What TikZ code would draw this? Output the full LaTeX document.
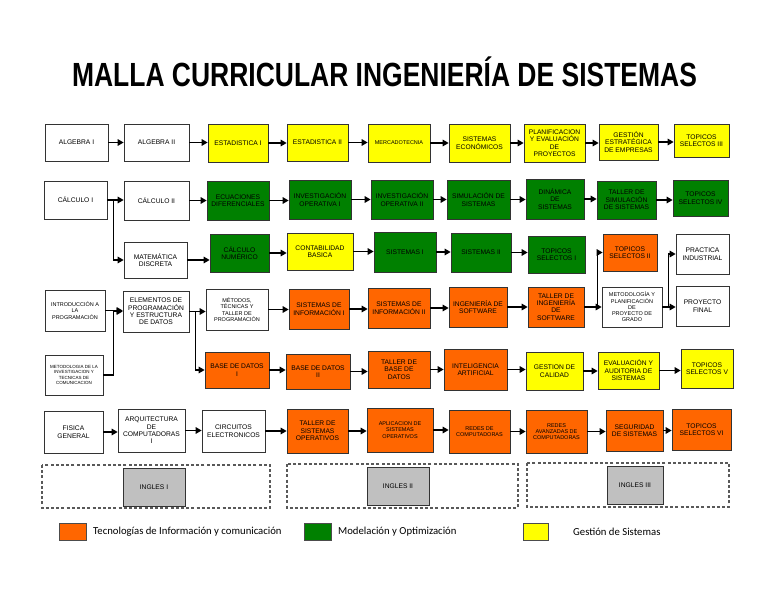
\documentclass[tikz,border=0pt]{standalone}
\usepackage{fontspec}
\setmainfont{Liberation Sans}
\newfontfamily\leyendafont{Carlito}
\usepackage{graphicx}
\usetikzlibrary{arrows.meta}
\definecolor{amarillo}{RGB}{255,255,0}
\definecolor{verde}{RGB}{0,128,0}
\definecolor{naranja}{RGB}{255,102,0}
\definecolor{gris}{RGB}{192,192,192}
\tikzset{
  caja/.style={draw=black!80, line width=0.7pt, align=center, inner sep=1pt,
    font=\fontsize{6.7}{7.4}\selectfont},
  tam/.style 2 args={minimum width=#1pt, minimum height=#2pt},
  blanca/.style={caja, fill=white},
  amar/.style={caja, fill=amarillo},
  verd/.style={caja, fill=verde},
  nar/.style={caja, fill=naranja},
  gri/.style={caja, fill=gris},
  chica/.style={font=\fontsize{5.5}{6.3}\selectfont},
  mini/.style={font=\fontsize{4.5}{5.2}\selectfont},
  flecha/.style={line width=1.6pt, -{Triangle[length=6pt,width=6.5pt]}},
  marco/.style={draw=black!65, line width=1.3pt, dash pattern=on 3pt off 2.2pt},
  muestra/.style={draw=black!70, line width=0.8pt, minimum width=27pt, minimum height=17pt},
  leyenda/.style={anchor=west, inner sep=0pt, font=\leyendafont\fontsize{10.7}{12}\selectfont},
}

\begin{document}
\begin{tikzpicture}[x=1pt, y=-1pt]
  \fill[white] (0,0) rectangle (768,594);
  \useasboundingbox (0,0) rectangle (768,594);

  % titulo
  \node[anchor=base, inner sep=0pt] (titulo) at (384.5,86)
    {\scalebox{0.79}[1]{\fontsize{33.5}{36}\selectfont\bfseries MALLA CURRICULAR INGENIERÍA DE SISTEMAS}};

  % fila 1
  \node[blanca, tam={63}{37}] (alg1) at (76.5,142.5) {ALGEBRA I};
  \node[blanca, tam={65}{37}] (alg2) at (156.5,142.5) {ALGEBRA II};
  \node[amar, tam={60}{38}] (est1) at (238,143) {ESTADISTICA I};
  \node[amar, tam={61}{37}] (est2) at (317.5,142.5) {ESTADISTICA II};
  \node[amar, chica, tam={62}{38}] (merc) at (399,143) {MERCADOTECNIA};
  \node[amar, tam={61}{38}] (sisec) at (479.5,143) {SISTEMAS\\ECONÓMICOS};
  \node[amar, tam={61}{38}] (planif) at (554.5,143) {PLANIFICACION\\Y EVALUACIÓN\\DE\\PROYECTOS};
  \node[amar, tam={59}{36}] (gesemp) at (628.5,142) {GESTIÓN\\ESTRATÉGICA\\DE EMPRESAS};
  \node[amar, tam={55}{33}] (top3) at (701.5,140.5) {TOPICOS\\SELECTOS III};

  % fila 2
  \node[blanca, tam={63}{38}] (calc1) at (75.5,200) {CÁLCULO I};
  \node[blanca, tam={65}{39}] (calc2) at (156.5,200.5) {CÁLCULO II};
  \node[verd, tam={62}{39}] (ecu) at (238,200.5) {ECUACIONES\\DIFERENCIALES};
  \node[verd, tam={62}{39}] (invop1) at (320,199.5) {INVESTIGACIÓN\\OPERATIVA I};
  \node[verd, tam={62}{39}] (invop2) at (402,199.5) {INVESTIGACIÓN\\OPERATIVA II};
  \node[verd, tam={63}{39}] (simul) at (478.5,199.5) {SIMULACIÓN DE\\SISTEMAS};
  \node[verd, tam={58}{40}] (dinam) at (555,199) {DINÁMICA\\DE\\SISTEMAS};
  \node[verd, tam={59}{38}] (tallsim) at (626.5,200) {TALLER DE\\SIMULACIÓN\\DE SISTEMAS};
  \node[verd, tam={55}{36}] (top4) at (700.5,198) {TOPICOS\\SELECTOS IV};

  % fila 3
  \node[blanca, tam={63}{36}] (matdis) at (155.5,260) {MATEMÁTICA\\DISCRETA};
  \node[verd, tam={59}{38}] (calnum) at (239.5,253) {CÁLCULO\\NUMÉRICO};
  \node[amar, tam={66}{37}] (contab) at (320,251.5) {CONTABILIDAD\\BASICA};
  \node[verd, tam={62}{40}] (sis1) at (405,252) {SISTEMAS I};
  \node[verd, tam={60}{39}] (sis2) at (481,252.5) {SISTEMAS II};
  \node[verd, tam={57}{37}] (top1) at (556.5,254.5) {TOPICOS\\SELECTOS I};
  \node[nar, tam={54}{37}] (top2) at (630,252.5) {TOPICOS\\SELECTOS II};
  \node[blanca, tam={53}{40}] (pract) at (702.5,254) {PRACTICA\\INDUSTRIAL};

  % fila 4
  \node[blanca, chica, tam={60}{41}] (intro) at (75,310.5) {INTRODUCCIÓN A\\LA\\PROGRAMACIÓN};
  \node[blanca, tam={66}{41}] (elem) at (156,311.5) {ELEMENTOS DE\\PROGRAMACIÓN\\Y ESTRUCTURA\\DE DATOS};
  \node[blanca, chica, tam={62}{41}] (metod) at (237,309.5) {MÉTODOS,\\TÉCNICAS Y\\TALLER DE\\PROGRAMACIÓN};
  \node[nar, tam={60}{40}] (sinf1) at (319,309) {SISTEMAS DE\\INFORMACIÓN I};
  \node[nar, tam={62}{40}] (sinf2) at (399,308) {SISTEMAS DE\\INFORMACIÓN II};
  \node[nar, tam={58}{40}] (ingsw) at (478,307) {INGENIERÍA DE\\SOFTWARE};
  \node[nar, tam={56}{40}] (tallsw) at (556,307) {TALLER DE\\INGENIERÍA\\DE\\SOFTWARE};
  \node[blanca, chica, tam={60}{40}] (metplan) at (632,307) {METODOLOGÍA Y\\PLANIFICACIÓN\\DE\\PROYECTO DE\\GRADO};
  \node[blanca, tam={53}{40}] (proyfin) at (702.5,306) {PROYECTO\\FINAL};

  % fila 5
  \node[blanca, mini, tam={58}{40}] (metinv) at (74,375) {METODOLOGIA DE LA\\INVESTIGACION Y\\TECNICAS DE\\COMUNICACION};
  \node[nar, tam={64}{36}] (bd1) at (237,370) {BASE DE DATOS\\I};
  \node[nar, tam={64}{35}] (bd2) at (318,371.5) {BASE DE DATOS\\II};
  \node[nar, tam={62}{37}] (tallbd) at (399,369.5) {TALLER DE\\BASE DE\\DATOS};
  \node[nar, tam={63}{41}] (ia) at (475.5,369.5) {INTELIGENCIA\\ARTIFICIAL};
  \node[amar, tam={57}{38}] (gescal) at (554.5,371) {GESTION DE\\CALIDAD};
  \node[amar, tam={61}{37}] (eval) at (628.5,370.5) {EVALUACIÓN Y\\AUDITORIA DE\\SISTEMAS};
  \node[amar, tam={52}{39}] (top5) at (707,368.5) {TOPICOS\\SELECTOS V};

  % fila 6
  \node[blanca, tam={59}{42}] (fis) at (73.5,432) {FISICA\\GENERAL};
  \node[blanca, tam={67}{43}] (arq) at (151.5,430.5) {ARQUITECTURA\\DE\\COMPUTADORAS\\I};
  \node[blanca, tam={63}{42}] (circ) at (233.5,431) {CIRCUITOS\\ELECTRONICOS};
  \node[nar, tam={61}{44}] (tallso) at (317.5,431) {TALLER DE\\SISTEMAS\\OPERATIVOS};
  \node[nar, chica, tam={66}{44}] (aplso) at (400,430) {APLICACION DE\\SISTEMAS\\OPERATIVOS};
  \node[nar, chica, tam={61}{43}] (redes) at (479.5,431.5) {REDES DE\\COMPUTADORAS};
  \node[nar, chica, tam={61}{43}] (redav) at (556.5,431.5) {REDES\\AVANZADAS DE\\COMPUTADORAS};
  \node[nar, tam={57}{41}] (segur) at (634.5,430.5) {SEGURIDAD\\DE SISTEMAS};
  \node[nar, tam={59}{41}] (top6) at (701.5,429.5) {TOPICOS\\SELECTOS VI};

  % ingles
  \draw[marco] (42,465) rectangle (270,508);
  \draw[marco] (287,464) rectangle (518,508);
  \draw[marco] (527,463) rectangle (729,507);
  \node[gri, tam={62}{38}] (ing1) at (154,487) {INGLES I};
  \node[gri, tam={62}{38}] (ing2) at (398,486) {INGLES II};
  \node[gri, tam={56}{38}] (ing3) at (635,485) {INGLES III};

  % flechas
  \foreach \a/\b in {alg1/alg2, alg2/est1, est1/est2, est2/merc, merc/sisec, sisec/planif, planif/gesemp, gesemp/top3,
      calc1/calc2, calc2/ecu, ecu/invop1, invop1/invop2, invop2/simul, simul/dinam, dinam/tallsim, tallsim/top4,
      matdis/calnum, calnum/contab, contab/sis1, sis1/sis2, sis2/top1,
      intro/elem, elem/metod, metod/sinf1, sinf1/sinf2, sinf2/ingsw, ingsw/tallsw, tallsw/metplan, metplan/proyfin,
      bd1/bd2, bd2/tallbd, tallbd/ia, ia/gescal, gescal/eval, eval/top5,
      fis/arq, arq/circ, circ/tallso, tallso/aplso, aplso/redes, redes/redav, redav/segur, segur/top6}
    \draw[flecha] (\a.east) -- (\a.east -| \b.west);

  \path (calc1.east) ++(6,0) coordinate (j1);
  \path (metinv.east) ++(10,0) coordinate (j2);
  \path (elem.east) ++(6,0) coordinate (j3);
  \path (tallsw.east) ++(13,0) coordinate (j4);
  \path (metplan.east) ++(6,0) coordinate (j5);
  \draw[flecha] (j1) |- (matdis.west);
  \draw[flecha] (metinv.east) -- (j2) |- (elem.west);
  \draw[flecha] (j3) |- (bd1.west);
  \draw[flecha] (j4) |- (top2.west);
  \draw[flecha] (j5) |- (pract.west);

  % leyenda
  \node[muestra, fill=naranja] (leg1) at (72.5,531.5) {};
  \node[muestra, fill=verde] (leg2) at (317.5,531.5) {};
  \node[muestra, fill=amarillo, minimum width=25pt] (leg3) at (535.5,531.5) {};
  \node[leyenda] (txt1) at (93,532) {Tecnologías de Información y comunicación};
  \node[leyenda] (txt2) at (338,532) {Modelación y Optimización};
  \node[leyenda] (txt3) at (573,532) {Gestión de Sistemas};
\end{tikzpicture}
\end{document}
